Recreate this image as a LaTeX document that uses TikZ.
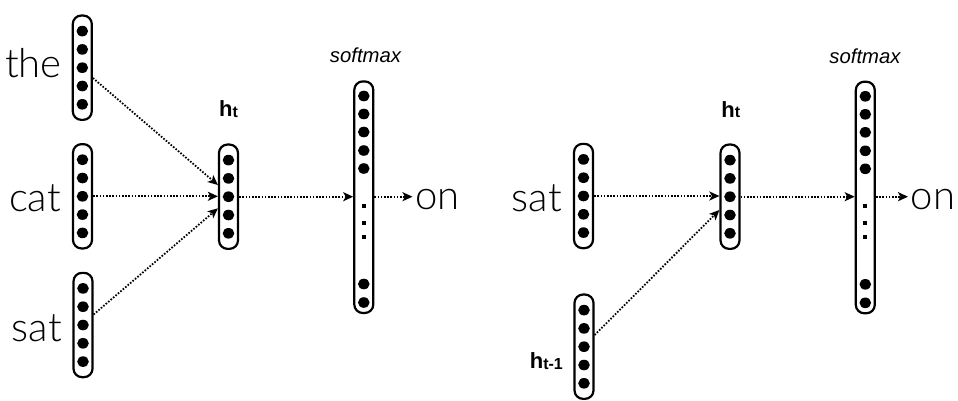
\documentclass[tikz,border=0pt]{standalone}
\usepackage{fontspec}
\setmainfont{Liberation Sans}
\newfontfamily\thinfont{Lato Light}
\newfontfamily\labfont{Liberation Sans}
\usetikzlibrary{arrows.meta}

\tikzset{
  vecbox/.style={draw, line width=2.2pt, rounded corners=8.5pt,
    minimum width=19pt, minimum height=104.3pt, inner sep=0pt},
  softbox/.style={vecbox, minimum height=231.6pt},
  wordlbl/.style={font=\thinfont\fontsize{40}{40}\selectfont, inner sep=0pt},
  hlbl/.style={font=\labfont\bfseries\fontsize{22}{22}\selectfont, inner sep=0pt},
  smlbl/.style={font=\labfont\itshape\fontsize{20.3}{20.3}\selectfont, inner sep=0pt},
  flow/.style={line width=1.8pt, dash pattern=on 1.6pt off 1.6pt,
    -{Stealth[length=10pt, width=9pt, inset=2.5pt, sep=0pt]}},
}

% five hidden units stacked in a vector box
\newcommand{\unitstack}[1]{%
  \foreach \k in {-2,...,2}
    \fill ([yshift=\k*18.3pt]#1.center) ellipse [x radius=5.8pt, y radius=5.3pt];}

% output units of a softmax box: five on top, ellipsis, two at the bottom
\newcommand{\softunits}[1]{%
  \foreach \d in {101.2,83.2,65.2,46.7,28.7,-86.8,-105.3}
    \fill ([yshift=\d pt]#1.center) ellipse [x radius=5.8pt, y radius=5.3pt];
  \foreach \d in {-8.8,-25.8,-39.8}
    \fill ([yshift=\d pt]#1.center) ++(-1.9pt,-2pt) rectangle ++(3.8pt,4pt);}

\newcommand{\hsub}[1]{h\raisebox{-0.8pt}{\fontsize{16}{16}\selectfont #1}}

\begin{document}
\begin{tikzpicture}[x=1pt, y=-1pt]
\useasboundingbox (0,0) rectangle (958,400);

% ---------- bag of context words ----------
\node[vecbox] (the)  at (82.3,67.7) {};
\node[vecbox] (cat)  at (82.5,196.3) {};
\node[vecbox] (satL) at (83,325) {};
\node[vecbox] (hL)   at (228.5,196.7) {};
\node[softbox] (softL) at (363.8,197.2) {};
\unitstack{the}\unitstack{cat}\unitstack{satL}\unitstack{hL}
\softunits{softL}

\node[wordlbl, anchor=base east] (tTheL) at (62,77.5) {the};
\node[wordlbl, anchor=base east] (tCatL) at (61,211) {cat};
\node[wordlbl, anchor=base east] (tSatL) at (62,341.7) {sat};
\node[hlbl, anchor=base] (tHL) at (228.5,116.5) {\hsub{t}};
\node[smlbl, anchor=base] (tSmL) at (365.5,62.5) {softmax};
\node[wordlbl, anchor=base west] (onL) at (415,209) {on};

\draw[flow] ([yshift=-10.3pt]the.east) -- ([yshift=11.7pt]hL.west);
\draw[flow] (cat.east) -- (cat.east -| hL.west);
\draw[flow] ([yshift=10.5pt]satL.east) -- ([yshift=-11.6pt]hL.west);
\draw[flow] (hL.east) -- (hL.east -| softL.west);
\draw[flow] (hL.east -| softL.east) -- ([xshift=-2.5pt]hL.east -| onL.west);

% ---------- recurrent step ----------
\node[vecbox] (satR) at (583.5,196) {};
\node[vecbox] (hm1)  at (584,346.7) {};
\node[vecbox] (hR)   at (730,196.7) {};
\node[softbox] (softR) at (865.3,197.5) {};
\unitstack{satR}\unitstack{hm1}\unitstack{hR}
\softunits{softR}

\node[wordlbl, anchor=base east] (tSatR) at (562,211.7) {sat};
\node[hlbl, anchor=base east] (tHm1) at (563,368.5) {\hsub{t-1}};
\node[hlbl, anchor=base] (tHR) at (730.7,117) {\hsub{t}};
\node[smlbl, anchor=base] (tSmR) at (865,63.3) {softmax};
\node[wordlbl, anchor=base west] (onR) at (910.5,209) {on};

\draw[flow] (satR.east) -- (satR.east -| hR.west);
\draw[flow] ([yshift=11.7pt]hm1.east) -- ([yshift=-13.3pt]hR.west);
\draw[flow] (hR.east) -- (hR.east -| softR.west);
\draw[flow] (hR.east -| softR.east) -- ([xshift=-2.5pt]hR.east -| onR.west);
\end{tikzpicture}
\end{document}
